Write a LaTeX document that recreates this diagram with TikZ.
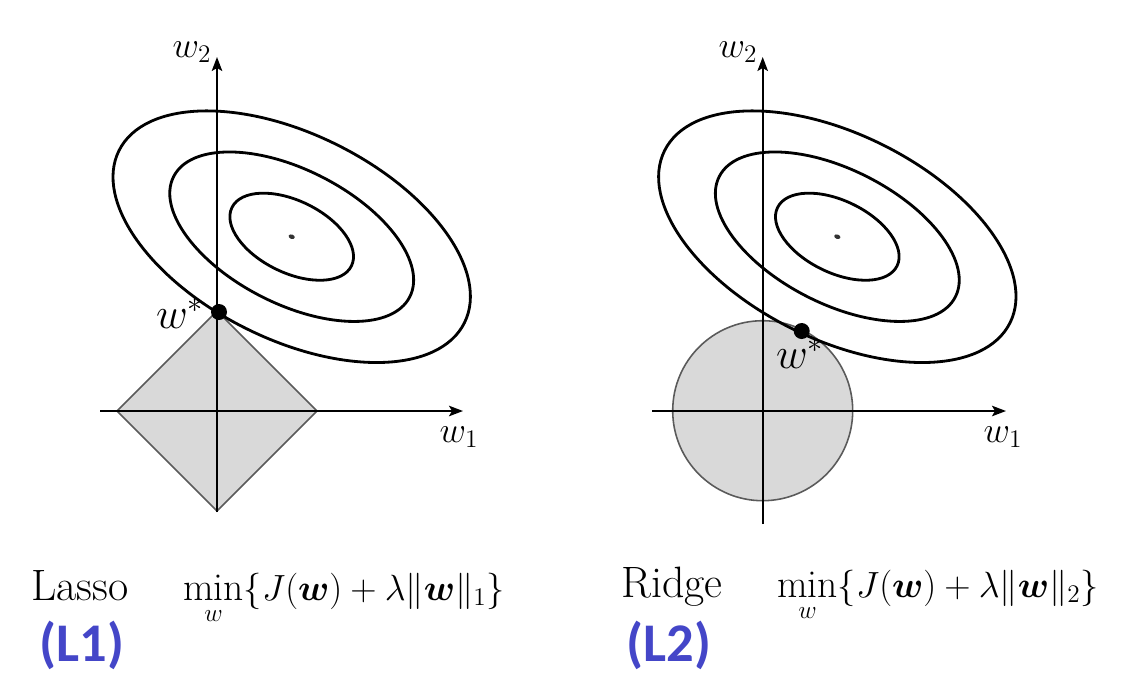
\documentclass[tikz,border=0pt]{standalone}
\usepackage{fontspec}
\usepackage{amsmath,bm}
\usetikzlibrary{arrows.meta}
\newfontfamily\calib{Carlito}
\definecolor{lblue}{RGB}{68,70,200}
\definecolor{regfill}{RGB}{217,217,217}
\definecolor{regedge}{RGB}{90,90,90}
\begin{document}
\begin{tikzpicture}[x=0.02cm,y=-0.02cm,
  axis/.style={line width=1.1pt,-{Stealth[length=2.8mm,width=2.1mm,inset=0.6mm]}},
  contour/.style={line width=1.6pt},
  region/.style={fill=regfill,draw=regedge,line width=0.9pt},
  opt/.style={circle,fill=black,inner sep=0pt,minimum size=0.32cm},
  axlabel/.style={font=\fontsize{21}{23}\selectfont,inner sep=0pt},
  starlabel/.style={font=\fontsize{24}{26}\selectfont,inner sep=0pt,anchor=base},
  methodname/.style={font=\fontsize{25}{28}\selectfont,inner sep=0pt,anchor=base},
  formula/.style={font=\fontsize{22.5}{25}\selectfont,inner sep=0pt,anchor=base west},
  tagtext/.style={font=\calib\bfseries\fontsize{31}{34}\selectfont,text=lblue,inner sep=0pt}
]
\useasboundingbox (0,0) rectangle (1125,677);

% ---------- Left panel (Lasso) ----------
\coordinate (Lo) at (217,411);
\coordinate (Lxs) at (100,411);
\coordinate (Lxe) at (463,411);
\coordinate (Lys) at (217,512);
\coordinate (Lye) at (217,57);
\coordinate (Le) at (291.7,236.7);
\draw[region] (117,411) -- (217,311) -- (317,411) -- (217,511) -- cycle;
\draw[axis] (Lxs) -- (Lxe);
\draw[axis] (Lys) -- (Lye);
\draw[contour,shift={(Le)},rotate=-26] (0,0) ellipse [x radius=66.5, y radius=36];
\draw[contour,shift={(Le)},rotate=-27] (0,0) ellipse [x radius=132.5, y radius=67];
\draw[contour,shift={(Le)},rotate=-26.5] (0,0) ellipse [x radius=193, y radius=102.5];
\fill[black!80,shift={(Le)},rotate=-20] (0,0) ellipse [x radius=3.2, y radius=2.2];
\node[opt] (Lw) at (219,312) {};
\node[starlabel] (Lwl) at (180,328) {$w^*$};
\node[axlabel] (Lw2) at (192,52) {$w_2$};
\node[axlabel] (Lw1) at (459,437) {$w_1$};
\node[methodname] (lasso) at (80,600) {Lasso};
\node[formula] (lform) at (183,600) {$\min\limits_{w}\{J(\bm{w})+\lambda\|\bm{w}\|_1\}$};
\node[tagtext] (l1) at (82,645) {(L1)};

% ---------- Right panel (Ridge) ----------
\coordinate (Ro) at (762.7,410.7);
\coordinate (Rxs) at (652,411);
\coordinate (Rxe) at (1006,411);
\coordinate (Rys) at (762.7,524);
\coordinate (Rye) at (762.7,57);
\coordinate (Re) at (837.3,236.7);
\draw[region] (Ro) circle [radius=90];
\draw[axis] (Rxs) -- (Rxe);
\draw[axis] (Rys) -- (Rye);
\draw[contour,shift={(Re)},rotate=-26] (0,0) ellipse [x radius=66.5, y radius=36];
\draw[contour,shift={(Re)},rotate=-27] (0,0) ellipse [x radius=132.5, y radius=67];
\draw[contour,shift={(Re)},rotate=-26.5] (0,0) ellipse [x radius=193, y radius=102.5];
\fill[black!80,shift={(Re)},rotate=-20] (0,0) ellipse [x radius=3.2, y radius=2.2];
\node[opt] (Rw) at (801.7,331) {};
\node[starlabel] (Rwl) at (800,368) {$w^*$};
\node[axlabel] (Rw2) at (738,52) {$w_2$};
\node[axlabel] (Rw1) at (1003,437) {$w_1$};
\node[methodname] (ridge) at (672,597) {Ridge};
\node[formula] (rform) at (777,597) {$\min\limits_{w}\{J(\bm{w})+\lambda\|\bm{w}\|_2\}$};
\node[tagtext] (l2) at (669,645) {(L2)};
\end{tikzpicture}
\end{document}
